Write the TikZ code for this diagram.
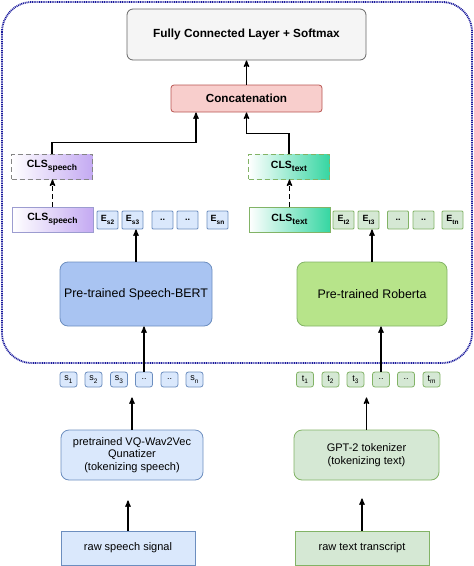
\documentclass[tikz,border=0pt]{standalone}
\usepackage{fontspec}
\setmainfont{Liberation Sans}
\usetikzlibrary{arrows}
\definecolor{fcFill}{HTML}{F5F5F5}
\definecolor{fcLine}{HTML}{666666}
\definecolor{catFill}{HTML}{F8CECC}
\definecolor{catLine}{HTML}{B85450}
\definecolor{spFill}{HTML}{DAE8FC}
\definecolor{spLine}{HTML}{6C8EBF}
\definecolor{txFill}{HTML}{D5E8D4}
\definecolor{txLine}{HTML}{82B366}
\definecolor{bertFill}{HTML}{A9C4F2}
\definecolor{robFill}{HTML}{B7E48A}
\definecolor{clsPurple}{HTML}{C4AAF2}
\definecolor{clsPurpleLine}{HTML}{9C9CD0}
\definecolor{clsMint}{HTML}{36D6A2}
\definecolor{dotNavy}{HTML}{1A1A9C}
\newcommand{\lowsub}[2][8.5]{\raisebox{-0.3em}{\fontsize{#1}{#1}\selectfont #2}}
\tikzset{
	blocknode/.style = {align=center, inner sep=0pt, text centered,
		line width=0.8pt, font=\fontsize{11}{12.7}\selectfont},
	blk_fc/.style = {blocknode, rounded corners=6pt, draw=fcLine, fill=fcFill,
		minimum width=239pt, minimum height=51pt,
		font=\fontsize{11.8}{14}\selectfont\bfseries},% couche finale
	blk_cat/.style = {blocknode, rounded corners=3pt, draw=catLine, fill=catFill,
		minimum width=151pt, minimum height=27pt,
		font=\fontsize{11.7}{14}\selectfont\bfseries},% concatenation
	blk_s/.style = {blocknode, rounded corners=8pt, draw=spLine,
		minimum height=50pt},% branche parole
	blk_t/.style = {blocknode, rounded corners=8pt, draw=txLine,
		minimum height=50pt},% branche texte
	cls_s/.style = {blocknode, draw=clsPurpleLine, left color=white,
		right color=clsPurple, minimum width=81pt, minimum height=25pt,
		font=\fontsize{10.5}{12}\selectfont\bfseries},% CLS parole
	cls_t/.style = {blocknode, draw=txLine, left color=white,
		right color=clsMint, minimum width=81pt, minimum height=25pt,
		font=\fontsize{10.5}{12}\selectfont\bfseries},% CLS texte
	emb_s/.style = {blocknode, rounded corners=1pt, draw=spLine, fill=spFill,
		minimum width=21pt, minimum height=18pt,
		font=\fontsize{9}{9}\selectfont\bfseries},% embedding parole
	emb_t/.style = {blocknode, rounded corners=1pt, draw=txLine, fill=txFill,
		minimum width=21pt, minimum height=18pt,
		font=\fontsize{9}{9}\selectfont\bfseries},% embedding texte
	tok_s/.style = {blocknode, rounded corners=2.5pt, draw=spLine, fill=spFill,
		minimum width=17pt, minimum height=15pt,
		font=\fontsize{9}{9}\selectfont},% jeton parole
	tok_t/.style = {blocknode, rounded corners=2.5pt, draw=txLine, fill=txFill,
		minimum width=17pt, minimum height=15pt,
		font=\fontsize{9}{9}\selectfont}% jeton texte
}
\begin{document}
\begin{tikzpicture}[->,>=stealth',x=1pt,y=-1pt,line width=1.3pt]
		\useasboundingbox (0,0) rectangle (474,566);
		\draw[-,dotNavy,line width=1.8pt,dash pattern=on 1pt off 0.8pt,
			rounded corners=30pt] (2,2) rectangle (472,363);
		
		\node[blk_fc] (fc) at (246.5,34.5) {Fully Connected Layer + Softmax};
		\node[blk_cat] (cat) at (246.5,98.5) {Concatenation};
		
		\node[cls_s,dashed,dash pattern=on 5pt off 3pt,draw=fcLine!80] (clsS2) at (52,166.5) {CLS\lowsub{speech}};
		\node[cls_t,dashed,dash pattern=on 5pt off 3pt] (clsT2) at (289,166.5) {CLS\lowsub{text}};
		\node[cls_s] (clsS) at (52.5,219.5) {CLS\lowsub{speech}};
		\node[cls_t] (clsT) at (289.5,219.5) {CLS\lowsub{text}};
		
		\node[emb_s] (es2) at (107.5,220) {E\lowsub[6.5]{s2}};
		\node[emb_s] (es3) at (132.5,220) {E\lowsub[6.5]{s3}};
		\node[emb_s] (es4) at (162.5,220) {..};
		\node[emb_s] (es5) at (187.5,220) {..};
		\node[emb_s] (esn) at (217.5,220) {E\lowsub[6.5]{sn}};
		\node[emb_t] (et2) at (343.5,220) {E\lowsub[6.5]{t2}};
		\node[emb_t] (et3) at (368.5,220) {E\lowsub[6.5]{t3}};
		\node[emb_t] (et4) at (398,220) {..};
		\node[emb_t] (et5) at (423.5,220) {..};
		\node[emb_t] (etn) at (452.5,220) {E\lowsub[6.5]{tn}};
		
		\node[blk_s,fill=bertFill,minimum width=152pt,minimum height=64pt,
			font=\fontsize{12.4}{14}\selectfont] (bert) at (136,294) {Pre-trained Speech-BERT};
		\node[blk_t,fill=robFill,minimum width=150pt,minimum height=64pt,
			font=\fontsize{12.4}{14}\selectfont] (rob) at (372,294) {Pre-trained Roberta};
		
		\node[tok_s] (s1) at (68.5,379.5) {s\lowsub[6.5]{1}};
		\node[tok_s] (s2) at (93.5,379.5) {s\lowsub[6.5]{2}};
		\node[tok_s] (s3) at (119,379.5) {s\lowsub[6.5]{3}};
		\node[tok_s] (s4) at (144,379.5) {..};
		\node[tok_s] (s5) at (169.5,379.5) {..};
		\node[tok_s] (sn) at (194.5,379.5) {s\lowsub[6.5]{n}};
		\node[tok_t] (t1) at (305,379.5) {t\lowsub[6.5]{1}};
		\node[tok_t] (t2) at (330.5,379.5) {t\lowsub[6.5]{2}};
		\node[tok_t] (t3) at (355.5,379.5) {t\lowsub[6.5]{3}};
		\node[tok_t] (t4) at (381,379.5) {..};
		\node[tok_t] (t5) at (406,379.5) {..};
		\node[tok_t] (tm) at (431.5,379.5) {t\lowsub[6.5]{m}};
		
		\node[blk_s,fill=spFill,minimum width=142pt] (vq) at (132,455)
			{pretrained VQ-Wav2Vec\\Qunatizer\\(tokenizing speech)};
		\node[blk_t,fill=txFill,minimum width=145pt] (gpt) at (366.5,455)
			{GPT-2 tokenizer\\(tokenizing text)};
		\node[blk_s,fill=spFill,rounded corners=0pt,minimum width=134pt,
			minimum height=34pt] (raws) at (128,548) {raw speech signal};
		\node[blk_t,fill=txFill,rounded corners=0pt,minimum width=134pt,
			minimum height=34pt] (rawt) at (362,548) {raw text transcript};
		
		\draw (cat) -- (fc);
		\draw (clsS2.north) -- ++(0,-11) -| ([xshift=-50.5pt]cat.south);
		\draw (clsT2.north) -- ++(0,-20) -| (cat.south);
		\draw[dashed,dash pattern=on 5pt off 3pt] (clsS.north) -- (clsS.north |- clsS2.south);
		\draw[dashed,dash pattern=on 5pt off 3pt] (clsT.north) -- (clsT.north |- clsT2.south);
		\draw (bert.north) -- (bert.north |- es3.south);
		\draw (rob.north) -- (rob.north |- et3.south);
		\draw (s4.north) -- (s4.north |- bert.south);
		\draw (t4.north) -- (t4.north |- rob.south);
		\draw[shorten >=10pt] (vq.north) -- (vq.north |- s3.south);
		\draw[shorten >=10pt] (gpt.north) -- (gpt.north |- t3.south);
		\draw[shorten >=20pt] (raws.north) -- (raws.north |- vq.south);
		\draw[shorten >=18pt] (rawt.north) -- (rawt.north |- gpt.south);
		
		;\end{tikzpicture}
\end{document}
